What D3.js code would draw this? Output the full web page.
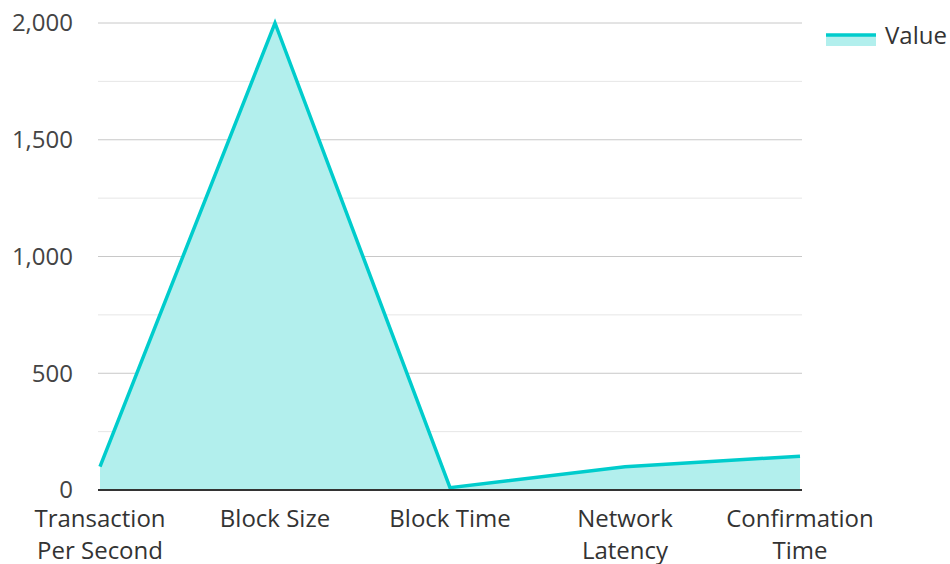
<!DOCTYPE html>
<html><head><meta charset="utf-8">
<script src="https://cdn.jsdelivr.net/npm/d3@7"></script>
<style>body{margin:0;background:#fff}svg{display:block}text{font-family:"Open Sans",sans-serif}</style>
</head><body>
<svg id="c" width="950" height="564"></svg>
<script>
const categories = [["Transaction","Per Second"],["Block Size"],["Block Time"],["Network","Latency"],["Confirmation","Time"]];
const values = [100, 2000, 10, 100, 145];
const yTicks = [0, 500, 1000, 1500, 2000];
const minorTicks = [250, 750, 1250, 1750];
const seriesName = "Value";

const svg = d3.select("#c");
const x = d3.scalePoint().domain(d3.range(categories.length)).range([100, 800]);
const y = d3.scaleLinear().domain([0, 2000]).range([490, 23]);

const g = svg.append("g");
g.selectAll(".minor").data(minorTicks).enter().append("line")
  .attr("x1", 98).attr("x2", 802).attr("y1", d => y(d)).attr("y2", d => y(d))
  .attr("stroke", "#e6e6e6").attr("stroke-width", 1);
g.selectAll(".major").data(yTicks.filter(d => d > 0)).enter().append("line")
  .attr("x1", 98).attr("x2", 802).attr("y1", d => y(d)).attr("y2", d => y(d))
  .attr("stroke", "#c8c8c8").attr("stroke-width", 1);

const area = d3.area().x((d, i) => x(i)).y0(y(0)).y1(d => y(d));
const line = d3.line().x((d, i) => x(i)).y(d => y(d));
g.append("path").datum(values).attr("d", area).attr("fill", "#b2efed");
g.append("path").datum(values).attr("d", line).attr("fill", "none")
  .attr("stroke", "#00cccc").attr("stroke-width", 3.5).attr("stroke-linejoin", "miter");

g.append("line").attr("x1", 98).attr("x2", 802).attr("y1", y(0)).attr("y2", y(0))
  .attr("stroke", "#333").attr("stroke-width", 2);

g.selectAll(".yl").data(yTicks).enter().append("text")
  .attr("x", 73).attr("y", d => y(d)).attr("dy", "0.35em").attr("text-anchor", "end")
  .attr("font-size", 24).attr("fill", "#444").text(d => d3.format(",")(d));

const xl = g.selectAll(".xl").data(categories).enter().append("text")
  .attr("text-anchor", "middle").attr("font-size", 24).attr("fill", "#333");
xl.each(function(d, i) {
  const t = d3.select(this);
  d.forEach((s, j) => t.append("tspan").attr("x", x(i)).attr("y", 527 + j * 32).text(s));
});

const lg = svg.append("g");
lg.append("rect").attr("x", 826).attr("y", 34).attr("width", 50).attr("height", 12).attr("fill", "#b2efed");
lg.append("line").attr("x1", 826).attr("x2", 876).attr("y1", 35).attr("y2", 35).attr("stroke", "#00cccc").attr("stroke-width", 3.5);
lg.append("text").attr("x", 885).attr("y", 36).attr("dy", "0.35em").attr("font-size", 24).attr("fill", "#333").text(seriesName);
</script>
</body></html>
